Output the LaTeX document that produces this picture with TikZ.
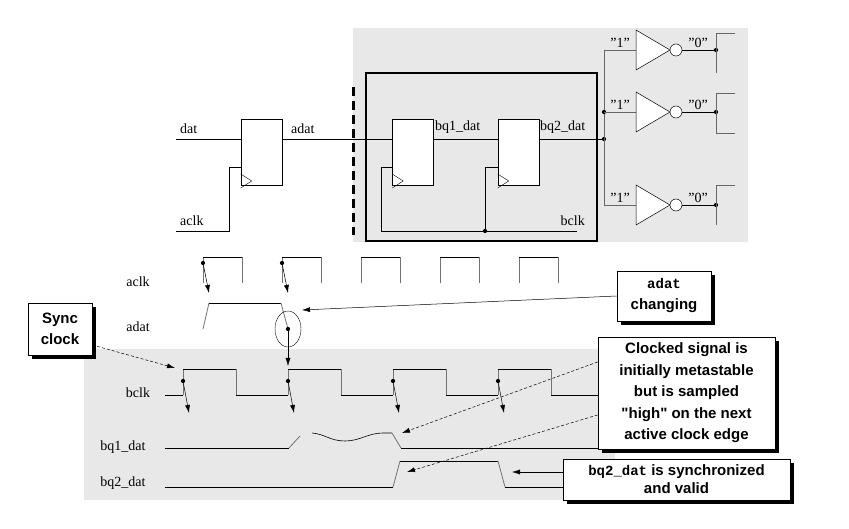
\documentclass[tikz,border=0pt]{standalone}
\usepackage{fontspec}
\setmainfont{Liberation Serif}
\newfontfamily\boxsans{Liberation Sans}
\newfontfamily\boxmono{Liberation Mono}
\usetikzlibrary{arrows.meta}
\newcommand{\qq}[1]{\symbol{34}#1\symbol{34}}
\begin{document}
\begin{tikzpicture}[x=1pt,y=-1pt,
  ff/.style={draw,fill=white,line width=0.6pt,minimum width=41pt,minimum height=66pt,inner sep=0pt},
  wire/.style={line width=0.6pt},
  wave/.style={line width=0.6pt},
  gwave/.style={line width=0.8pt,draw=black!55},
  lbl/.style={font=\fontsize{14}{16}\selectfont,inner sep=0pt},
  callout/.style={draw,fill=white,line width=0.8pt,font=\boxsans\bfseries\fontsize{15}{21}\selectfont,align=center,inner sep=1pt},
  arr/.style={-{Latex[length=8pt,width=5pt]},line width=0.5pt},
  dot/.style={circle,fill,inner sep=1.5pt}]
\useasboundingbox (0,0) rectangle (849,529);
\fill[black!9] (353,28) rectangle (748,242);
\fill[black!9] (84,349) rectangle (615,500);
% bold box
\draw[line width=2.2pt] (366,73) rectangle (597,241);
\draw[line width=3pt,dash pattern=on 9pt off 5pt] (353,87) -- (353,235);
% flip flops
\node[ff] (ff1) at (261.5,152) {};
\node[ff] (ff2) at (413,152) {};
\node[ff] (ff3) at (518.5,152) {};
\foreach \f in {ff1,ff2,ff3}{
  \draw[line width=0.4pt] ([yshift=-7pt]\f.west|-0,167) -- ++(11,7) -- ++(-11,7);}
\coordinate (dat0) at (176,139);
\coordinate (aclk0) at (176,231);
\draw[wire] (dat0) -- (ff1.west|-dat0);
\node[lbl,anchor=south west] at (180,134) {dat};
\draw[wire] (aclk0) -- (229,231) -- (229,167) -- (ff1.west|-0,167);
\node[lbl,anchor=south west] at (180,226) {aclk};
\draw[wire] (ff1.east|-dat0) -- (ff2.west|-dat0);
\node[lbl,anchor=south west] at (291,134) {adat};
\draw[wire] (ff2.east|-dat0) -- (ff3.west|-dat0);
\node[lbl,anchor=south west] at (435,134) {bq1\_dat};
\coordinate (bus) at (604,139);
\draw[wire] (ff3.east|-dat0) -- (bus);
\node[lbl,anchor=south west] at (540,134) {bq2\_dat};
\node[dot] at (bus) {};
\coordinate (bclkend) at (577,231);
\draw[wire] (ff2.west|-0,167) -- (381,167) -- (381,231) -- (bclkend);
\draw[wire] (ff3.west|-0,167) -- (485,167) -- (485,231);
\node[dot] at (485,231) {};
\node[lbl,anchor=south east] at (585,226) {bclk};
% inverters
\draw[wire,draw=black!60] (604,50) -- (604,205);
\node[dot] at (604,112) {};
\foreach \y/\ya/\yb/\two in {50/33/73/0,112/93/133/1,205/185/225/0}{
  \draw[wire,draw=black!60] (604,\y) -- (636,\y);
  \draw[line width=0.5pt,fill=white] (636,\y-20) -- (670,\y) -- (636,\y+20) -- cycle;
  \draw[line width=0.5pt,fill=white] (676,\y) circle (6);
  \draw[wire] (682,\y) -- (716,\y);
  \node[dot] at (716,\y) {};
  \draw[wire,draw=black!60] (735,\ya) -- (716,\ya) -- (716,\yb);
  \ifnum\two=1 \draw[wire,draw=black!60] (716,\yb) -- (735,\yb);\fi
  \node[lbl,anchor=south] at (620,\y-2) {\qq{1}};
  \node[lbl,anchor=south] at (698,\y-2) {\qq{0}};
}
% aclk waveform
\node[lbl] at (138,282) {aclk};
\foreach \x in {203,282,361,440,519}{
  \draw[gwave] (\x,283) -- (\x,257) -- (\x+39,257) -- (\x+39,283);}
\draw[black,line width=0.6pt] (203,257)--(242,257) (282,257)--(321,257) (361,257)--(400,257) (440,257)--(479,257) (519,257)--(558,257);
\foreach \x in {203,282}{
  \node[dot] (ad\x) at (\x,263) {};
  \draw[arr] (ad\x) -- (\x+6,293);}
% adat
\node[lbl] at (138,327) {adat};
\draw[gwave] (203,329) -- (209,303);
\draw[wave] (209,303) -- (281,303);
\draw[gwave] (281,303) -- (288,329);
\draw[line width=0.4pt] (288,329) ellipse (13 and 18);
\node[dot] (adc) at (288,329) {};
\draw[arr] (adc) -- (288,366);
% bclk
\node[lbl] at (138,393) {bclk};
\draw[wave] (165,395) -- (183,395);
\foreach \x in {183,288,393,498}{
  \draw[gwave] (\x,395) -- (\x,369) (\x+53,369) -- (\x+53,395);
  \draw[wave] (\x,369) -- (\x+53,369);
  \node[dot] (bd\x) at (\x,381) {};
  \draw[arr] (bd\x) -- (\x+6,413);}
\draw[wave] (236,395)--(288,395) (341,395)--(393,395) (446,395)--(498,395) (551,395)--(598,395);
% bq1
\node[lbl] at (123,447) {bq1\_dat};
\draw[wave] (165,448) -- (289,448);
\draw[gwave] (289,448) -- (300,436);
\draw[wave] (312,433) .. controls (325,434) and (330,441) .. (345,441) .. controls (360,441) and (368,433) .. (383,433) -- (392,433);
\draw[gwave] (392,433) -- (401,448);
\draw[wave] (401,448) -- (598,448);
% bq2
\node[lbl] at (123,483) {bq2\_dat};
\draw[wave] (165,487) -- (393,487);
\draw[gwave] (393,487) -- (400,461);
\draw[wave] (400,461) -- (498,461);
\draw[gwave] (498,461) -- (505,487);
\draw[wave] (505,487) -- (598,487);
% callouts
\node[callout,minimum width=94pt,minimum height=50pt] (ch) at (664,296)
  {{\boxmono\bfseries\fontsize{14}{16}\selectfont adat}\\changing};
\node[callout,minimum width=64pt,minimum height=52pt] (sync) at (60,329) {Sync\\clock};
\node[callout,minimum width=177pt,minimum height=112pt,font=\boxsans\bfseries\fontsize{15}{21.5}\selectfont] (cs) at (686.5,393)
  {Clocked signal is\\initially metastable\\but is sampled\\\qq{high} on the next\\active clock edge};
\node[callout,minimum width=227pt,minimum height=41pt,font=\boxsans\bfseries\fontsize{15}{18}\selectfont] (bq) at (676.5,479.5)
  {{\boxmono\bfseries\fontsize{14}{16}\selectfont bq2\_dat} is synchronized\\and valid};
\foreach \n in {ch,sync,cs,bq}{
  \fill[black] ([xshift=0.4pt,yshift=-4pt]\n.north east) rectangle ([xshift=4pt,yshift=-4pt]\n.south east);
  \fill[black] ([xshift=4pt,yshift=-0.4pt]\n.south west) rectangle ([xshift=4pt,yshift=-4pt]\n.south east);}
\draw[arr] (ch.west) -- (302,310);
\draw[arr,dash pattern=on 3pt off 2pt] (sync.east|-0,345) -- (175,368);
\draw[arr,dash pattern=on 3pt off 2pt] (cs.west|-0,362) -- (402,433);
\draw[arr,dash pattern=on 3pt off 2pt] (cs.west|-0,415) -- (407,472);
\draw[arr] (bq.west|-0,472) -- (512,472);
\end{tikzpicture}
\end{document}
